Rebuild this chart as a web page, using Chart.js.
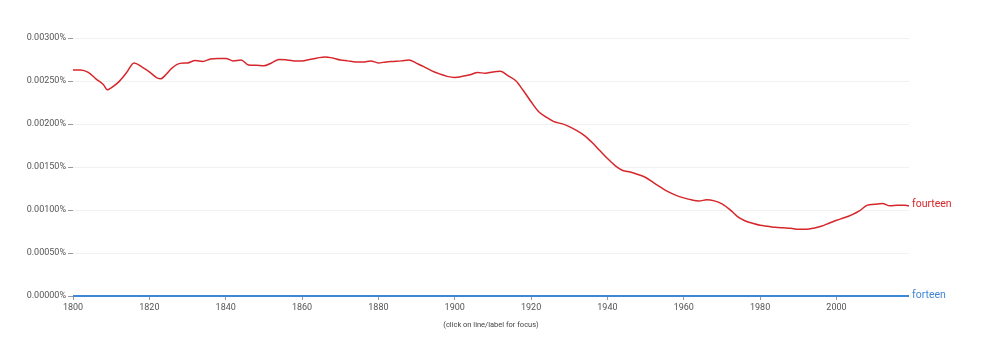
<!DOCTYPE html>
<html>
<head>
<meta charset="utf-8">
<script src="https://cdn.jsdelivr.net/npm/chart.js@4.4.1/dist/chart.umd.min.js"></script>
<style>
  html, body { margin: 0; padding: 0; background: #ffffff; }
  #wrap { width: 1000px; height: 361px; position: relative; }
</style>
</head>
<body>
<div id="wrap"><canvas id="c" width="1000" height="361"></canvas></div>
<script>
// ---- data (values in percent) ----
const seriesNames = ['fourteen', 'forteen'];
const fourteenYears = [
  1800,1802,1804,1806,1808,1809,1810,1812,1814,1816,1818,1820,1822,1823,1824,1826,1828,1830,
  1832,1834,1836,1838,1840,1842,1844,1846,1848,1850,1852,1854,1856,1858,1860,1862,1864,1866,
  1868,1870,1872,1874,1876,1878,1880,1882,1884,1886,1888,1890,1892,1894,1896,1898,1900,1902,
  1904,1906,1908,1910,1912,1914,1916,1918,1920,1922,1924,1926,1928,1930,1932,1934,1936,1938,
  1940,1942,1944,1946,1948,1950,1952,1954,1956,1958,1960,1962,1964,1966,1968,1970,1972,1974,
  1976,1978,1980,1982,1984,1986,1988,1990,1992,1994,1996,1998,2000,2002,2004,2006,2008,2010,
  2012,2014,2016,2018,2019
];
const fourteenValues = [
  0.002629,0.002629,0.002600,0.002525,0.002456,0.002398,0.002421,0.002490,0.002595,0.002710,0.002664,0.002606,0.002537,0.002525,0.002560,0.002653,0.002705,0.002710,
  0.002739,0.002728,0.002757,0.002763,0.002763,0.002734,0.002745,0.002687,0.002682,0.002676,0.002710,0.002751,0.002745,0.002734,0.002734,0.002751,0.002768,0.002780,
  0.002768,0.002745,0.002734,0.002722,0.002722,0.002734,0.002710,0.002722,0.002728,0.002734,0.002745,0.002705,0.002664,0.002618,0.002583,0.002554,0.002542,0.002554,
  0.002572,0.002600,0.002589,0.002606,0.002612,0.002560,0.002502,0.002386,0.002259,0.002143,0.002079,0.002027,0.002004,0.001969,0.001923,0.001865,0.001784,0.001691,
  0.001599,0.001517,0.001460,0.001442,0.001413,0.001378,0.001320,0.001263,0.001210,0.001170,0.001141,0.001118,0.001106,0.001118,0.001106,0.001071,0.001008,0.000927,
  0.000875,0.000846,0.000822,0.000811,0.000799,0.000793,0.000788,0.000776,0.000776,0.000788,0.000811,0.000846,0.000880,0.000909,0.000944,0.000990,0.001054,0.001066,
  0.001077,0.001048,0.001054,0.001054,0.001048
];
const forteenYears  = [1800, 1850, 1900, 1950, 2000, 2019];
const forteenValues = [0.000001, 0.000001, 0.000001, 0.000001, 0.000001, 0.000001];
const xTickYears = [1800, 1820, 1840, 1860, 1880, 1900, 1920, 1940, 1960, 1980, 2000];
const yTickValues = [0, 0.0005, 0.001, 0.0015, 0.002, 0.0025, 0.003];
const seriesColors = ['#d7262b', '#3f86d5'];
const captionText = '(click on line/label for focus)';

function toPoints(xs, ys) { return xs.map((x, i) => ({ x: x, y: ys[i] })); }

const endLabels = {
  id: 'endLabels',
  afterDatasetsDraw(chart) {
    const ctx = chart.ctx;
    ctx.save();
    ctx.font = '10.5px Roboto, "Noto Sans", sans-serif';
    ctx.textBaseline = 'middle';
    ctx.textAlign = 'left';
    chart.data.datasets.forEach((ds, i) => {
      const meta = chart.getDatasetMeta(i);
      const last = meta.data[meta.data.length - 1];
      if (!last) return;
      ctx.fillStyle = ds.borderColor;
      ctx.fillText(ds.label, last.x + 3, last.y - 1);
    });
    ctx.restore();
  }
};

new Chart(document.getElementById('c'), {
  type: 'line',
  data: {
    datasets: [
      {
        label: seriesNames[1],
        data: toPoints(forteenYears, forteenValues),
        borderColor: seriesColors[1],
        backgroundColor: seriesColors[1],
        borderWidth: 2,
        pointRadius: 0,
        tension: 0,
        fill: false,
        clip: false
      },
      {
        label: seriesNames[0],
        data: toPoints(fourteenYears, fourteenValues),
        borderColor: seriesColors[0],
        backgroundColor: seriesColors[0],
        borderWidth: 1.5,
        pointRadius: 0,
        fill: false,
        cubicInterpolationMode: 'monotone'
      }
    ]
  },
  options: {
    responsive: false,
    animation: false,
    devicePixelRatio: 1,
    layout: { padding: { top: 38, right: 91, bottom: 0, left: 0 } },
    plugins: { legend: { display: false }, tooltip: { enabled: false } },
    scales: {
      x: {
        type: 'linear',
        min: 1800,
        max: 2019,
        afterBuildTicks(scale) { scale.ticks = xTickYears.map(v => ({ value: v })); },
        afterFit(scale) { scale.height = 65; },
        grid: { drawOnChartArea: false, color: '#9a9a9a', tickColor: '#9a9a9a', tickLength: 4 },
        border: { display: false },
        ticks: {
          color: '#555555',
          padding: 2,
          maxRotation: 0,
          font: { family: 'Roboto', size: 9 },
          callback: v => String(v)
        },
        title: {
          display: true,
          text: captionText,
          color: '#444444',
          font: { family: 'Roboto', size: 7.5 },
          padding: { top: 4, bottom: 31.5 }
        }
      },
      y: {
        min: 0,
        max: 0.003,
        afterBuildTicks(scale) { scale.ticks = yTickValues.map(v => ({ value: v })); },
        afterFit(scale) { scale.width = 73; },
        grid: { color: '#f1f1f1', tickColor: '#9a9a9a', tickLength: 5, lineWidth: 1 },
        border: { display: false },
        ticks: {
          color: '#555555',
          padding: 2,
          font: { family: 'Roboto', size: 9 },
          callback: v => v.toFixed(5) + '%'
        }
      }
    }
  },
  plugins: [endLabels]
});
</script>
</body>
</html>
